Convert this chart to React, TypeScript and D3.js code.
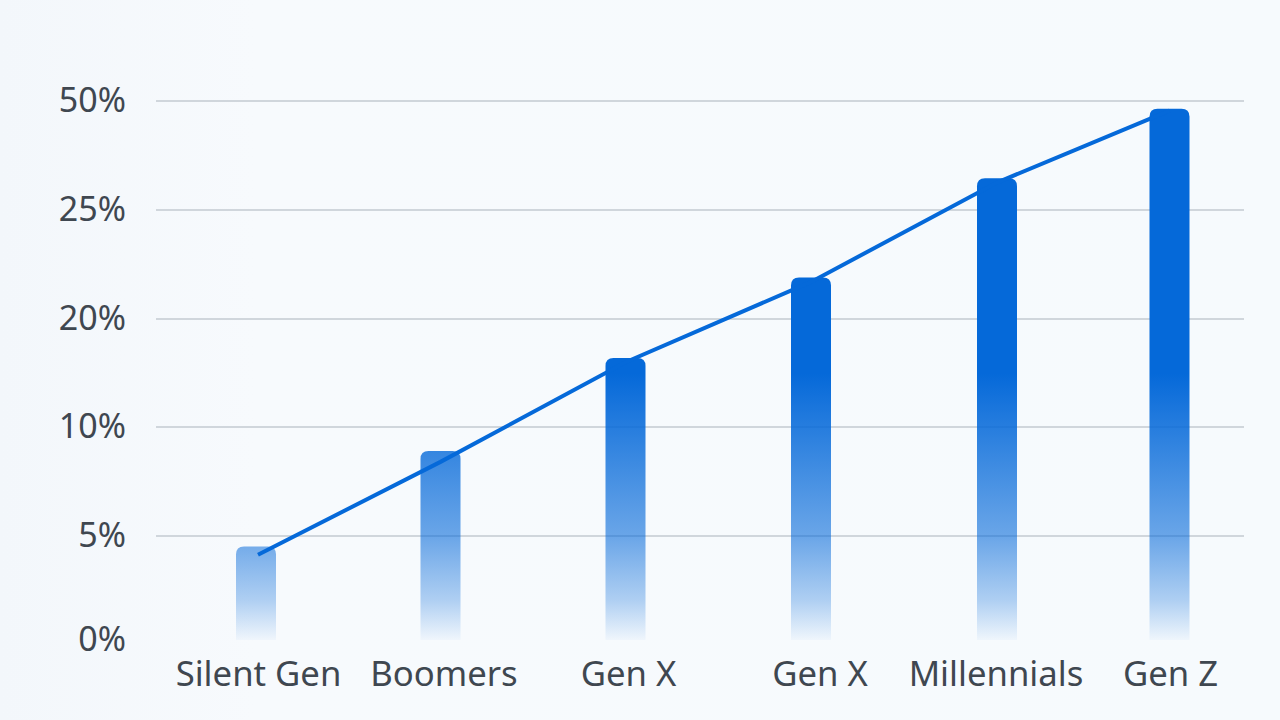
import React from 'react'
import * as d3 from 'd3'

const generations = ['Silent Gen', 'Boomers', 'Gen X', 'Gen X', 'Millennials', 'Gen Z']
const barValues = [4.5, 8.9, 16.4, 21.9, 32.3, 48.2]
const lineValues = [4.1, 8.4, 16.0, 21.7, 31.3, 47.8]
const yTicks = [0, 5, 10, 20, 25, 50]

const width = 1280
const height = 720
const barWidth = 40
const blue = '#0569d9'

// the axis is not linear: ticks are evenly spaced but 0,5,10,20,25,50
const y = d3.scaleLinear().domain(yTicks).range([640, 536, 427, 319, 210, 101])
// bars sit a bit unevenly in the original
const x = d3.scaleLinear().domain([0, 1, 2, 3, 4, 5]).range([256, 440.5, 625.5, 811, 997, 1169.5])
const labelX = d3.scaleLinear().domain([0, 1, 2, 3, 4, 5]).range([258.5, 444, 628.5, 820, 996, 1170.5])

const line = d3
  .line<number>()
  .x((_, i) => x(i) + (i === 0 ? 2 : 0))
  .y((d) => y(d))

function barPath(i: number, v: number) {
  const p = d3.path()
  const x0 = x(i) - barWidth / 2
  const x1 = x0 + barWidth
  const top = y(v)
  const r = 8
  p.moveTo(x0, y(0))
  p.lineTo(x0, top + r)
  p.quadraticCurveTo(x0, top, x0 + r, top)
  p.lineTo(x1 - r, top)
  p.quadraticCurveTo(x1, top, x1, top + r)
  p.lineTo(x1, y(0))
  p.closePath()
  return p.toString()
}

export default function App() {
  const font = '"Noto Sans", "Open Sans", sans-serif'
  return (
    <svg
      width={width}
      height={height}
      viewBox={`0 0 ${width} ${height}`}
      style={{ position: 'absolute', left: 0, top: 0 }}
    >
      <defs>
        <linearGradient id="page" x1="0" y1="0" x2="1" y2="0">
          <stop offset="0" stopColor="#f3f7fb" />
          <stop offset="0.2" stopColor="#f7fafd" />
          <stop offset="1" stopColor="#f6fafd" />
        </linearGradient>
        {/* userSpace so every bar shares one fade, short bars start paler */}
        <linearGradient id="bar" gradientUnits="userSpaceOnUse" x1="0" y1={y(0)} x2="0" y2={y(20)}>
          <stop offset="0" stopColor={blue} stopOpacity="0.03" />
          <stop offset="0.125" stopColor={blue} stopOpacity="0.3" />
          <stop offset="0.32" stopColor={blue} stopOpacity="0.58" />
          <stop offset="0.66" stopColor={blue} stopOpacity="0.86" />
          <stop offset="0.83" stopColor={blue} />
        </linearGradient>
      </defs>
      <rect width={width} height={height} fill="url(#page)" />

      {yTicks.map((t) => (
        <g key={t}>
          {t > 0 && <line x1={156} x2={1244} y1={y(t)} y2={y(t)} stroke="#d0d6dc" strokeWidth={2} />}
          <text
            x={126}
            y={y(t)}
            dy="0.33em"
            textAnchor="end"
            fontFamily={font}
            fontSize={34}
            fill="#3f4750"
          >
            {t}%
          </text>
        </g>
      ))}

      {barValues.map((v, i) => (
        <path key={i} d={barPath(i, v)} fill="url(#bar)" />
      ))}

      <path d={line(lineValues) ?? ''} fill="none" stroke={blue} strokeWidth={4} />

      {generations.map((g, i) => (
        <text
          key={i}
          x={labelX(i)}
          y={686}
          textAnchor="middle"
          fontFamily={font}
          fontSize={34.7}
          fill="#3f4750"
        >
          {g}
        </text>
      ))}
    </svg>
  )
}
